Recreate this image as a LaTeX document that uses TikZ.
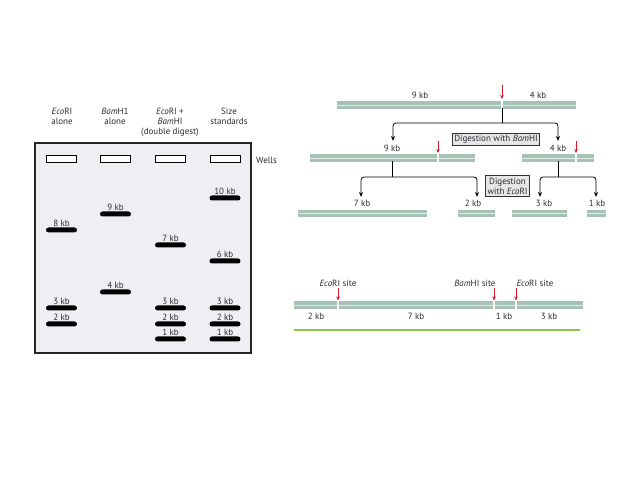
\documentclass[tikz,border=0pt]{standalone}
\usepackage{fontspec}
\setmainfont{PT Sans}
\usetikzlibrary{arrows.meta}
\definecolor{gelfill}{HTML}{F1EEF3}
\definecolor{dnacol}{HTML}{A5C2B4}
\definecolor{dnalight}{HTML}{E3EDE8}
\definecolor{cutred}{HTML}{D2182B}
\definecolor{limeg}{HTML}{8CC63F}
\definecolor{boxfill}{HTML}{E6E6E6}
\definecolor{txt}{HTML}{2B2B33}
\tikzset{
  lbl/.style={font=\fontsize{9}{10}\selectfont, text=txt, inner sep=0pt, align=center},
  band/.style={fill=black, minimum width=31pt, minimum height=5pt, inner sep=0pt, rounded corners=2.5pt},
  well/.style={draw=black, line width=0.8pt, fill=white, minimum width=30pt, minimum height=6.5pt, inner sep=0pt},
  redarrow/.style={cutred, line width=0.9pt, -{Stealth[length=4pt,width=3.5pt]}},
  bracket/.style={black, line width=0.8pt, rounded corners=3pt},
  barrow/.style={black, line width=0.8pt, rounded corners=3pt, -{Stealth[length=5pt,width=4pt]}},
  stepbox/.style={draw=black!80, line width=0.7pt, fill=boxfill, inner sep=2pt, text=txt, font=\fontsize{9}{10}\selectfont, align=center},
}
\newcommand{\dnaseg}[3]{%
  \fill[dnacol] (#1,#3-3.6) rectangle (#2,#3+3.6);
  \draw[dnalight, line width=0.9pt] (#1,#3) -- (#2,#3);}
\newcommand{\dnacut}[2]{%
  \draw[white, line width=1.1pt] (#1,#2-3.6) -- (#1,#2+3.6);}
\begin{document}
\begin{tikzpicture}[x=1pt,y=-1pt]
\useasboundingbox (0,0) rectangle (638,478);
\fill[white] (0,0) rectangle (638,478);

% ---------- Gel ----------
\node[draw=black!85, line width=1.3pt, fill=gelfill, minimum width=216pt, minimum height=210pt, inner sep=0pt] (gel) at (143,248) {};

\node[lbl] (h1) at (62,116.5) {\textit{Eco}RI\\alone};
\node[lbl] (h2) at (115,116.5) {\textit{Bam}H1\\alone};
\node[lbl] (h3) at (170,122) {\textit{Eco}RI +\\\textit{Bam}HI\\(double digest)};
\node[lbl] (h4) at (229,116.5) {Size\\standards};

\node[well] (w1) at (61.5,159) {};
\node[well] (w2) at (115.5,159) {};
\node[well] (w3) at (170.5,159) {};
\node[well] (w4) at (225,159) {};
\node[lbl, anchor=west] (wells) at (256,160) {Wells};

% lane 1
\node[band] (a8) at (61.5,230) {};
\node[band] (a3) at (61.5,308) {};
\node[band] (a2) at (61.5,324) {};
% lane 2
\node[band] (b9) at (115.5,214) {};
\node[band] (b4) at (115.5,292) {};
% lane 3
\node[band] (c7) at (170.5,245) {};
\node[band] (c3) at (170.5,308) {};
\node[band] (c2) at (170.5,324) {};
\node[band] (c1) at (170.5,339) {};
% lane 4
\node[band] (d10) at (225,198) {};
\node[band] (d6) at (225,261) {};
\node[band] (d3) at (225,308) {};
\node[band] (d2) at (225,324) {};
\node[band] (d1) at (225,339) {};

\foreach \n/\t in {a8/8 kb,a3/3 kb,a2/2 kb,b9/9 kb,b4/4 kb,c7/7 kb,c3/3 kb,c2/2 kb,c1/1 kb,d10/10 kb,d6/6 kb,d3/3 kb,d2/2 kb,d1/1 kb}{
  \node[lbl, anchor=south] (t\n) at ([yshift=0.2pt]\n.north) {\t};
}

% ---------- Top DNA ----------
\dnaseg{337}{576}{105}
\dnacut{502}{105}
\coordinate (cutA) at (502,108);
\node[lbl] (k9a) at (420,95) {9 kb};
\node[lbl] (k4a) at (538,95) {4 kb};
\coordinate (rA) at (502,85);
\coordinate (rAe) at (502,99);
\draw[redarrow] (rA) -- (rAe);

% bracket 1
\coordinate (j1) at (502,123);
\coordinate (f9) at (393,141);
\coordinate (f4) at (558,141);
\draw[bracket] (cutA) -- (j1);
\draw[barrow] (j1) -| (f9);
\draw[barrow] (j1) -| (f4);
\node[stepbox] (dig1) at (496,139.5) {Digestion with \textit{Bam}HI};

% second row
\dnaseg{310}{475}{158}
\dnacut{438}{158}
\dnaseg{522}{594}{158}
\dnacut{576}{158}
\node[lbl] (k9b) at (392,148) {9 kb};
\node[lbl] (k4b) at (558,148) {4 kb};
\coordinate (rB) at (438,141);
\coordinate (rBe) at (438,153);
\coordinate (rC) at (576,141);
\coordinate (rCe) at (576,153);
\draw[redarrow] (rB) -- (rBe);
\draw[redarrow] (rC) -- (rCe);

% brackets 2
\coordinate (s9) at (392,161);
\coordinate (j2) at (392,177);
\coordinate (g7) at (361,197);
\coordinate (g2) at (477,197);
\draw[bracket] (s9) -- (j2);
\draw[barrow] (j2) -| (g7);
\draw[barrow] (j2) -| (g2);
\coordinate (s4) at (558,161);
\coordinate (j3) at (558,177);
\coordinate (g3) at (540,197);
\coordinate (g1) at (596,197);
\draw[bracket] (s4) -- (j3);
\draw[barrow] (j3) -| (g3);
\draw[barrow] (j3) -| (g1);
\node[stepbox] (dig2) at (507.5,186) {Digestion\\with \textit{Eco}RI};

% third row
\dnaseg{298}{427}{213.5}
\dnaseg{458}{495}{213.5}
\dnaseg{512}{567}{213.5}
\dnaseg{587}{606}{213.5}
\node[lbl] (k7c) at (362,203) {7 kb};
\node[lbl] (k2c) at (473,203) {2 kb};
\node[lbl] (k3c) at (544,203) {3 kb};
\node[lbl] (k1c) at (597,203) {1 kb};

% ---------- Map ----------
\dnaseg{294}{583}{305}
\dnacut{338}{305}
\dnacut{494}{305}
\dnacut{516}{305}
\coordinate (m1) at (338,288);
\coordinate (m1e) at (338,300.5);
\coordinate (m2) at (494,288);
\coordinate (m2e) at (494,300.5);
\coordinate (m3) at (516,288);
\coordinate (m3e) at (516,300.5);
\node[lbl] (e1) at (338,283) {\textit{Eco}RI site};
\node[lbl] (bs) at (475,283) {\textit{Bam}HI site};
\node[lbl] (e2) at (535,283) {\textit{Eco}RI site};
\draw[redarrow] (m1) -- (m1e);
\draw[redarrow] (m2) -- (m2e);
\draw[redarrow] (m3) -- (m3e);
\node[lbl] (q2) at (316,316.5) {2 kb};
\node[lbl] (q7) at (416,316.5) {7 kb};
\node[lbl] (q1) at (504,316.5) {1 kb};
\node[lbl] (q3) at (549,316.5) {3 kb};
\coordinate (gA) at (294,330);
\coordinate (gB) at (580,330);
\draw[limeg, line width=2.6pt] (gA) -- (gB);
\end{tikzpicture}
\end{document}
